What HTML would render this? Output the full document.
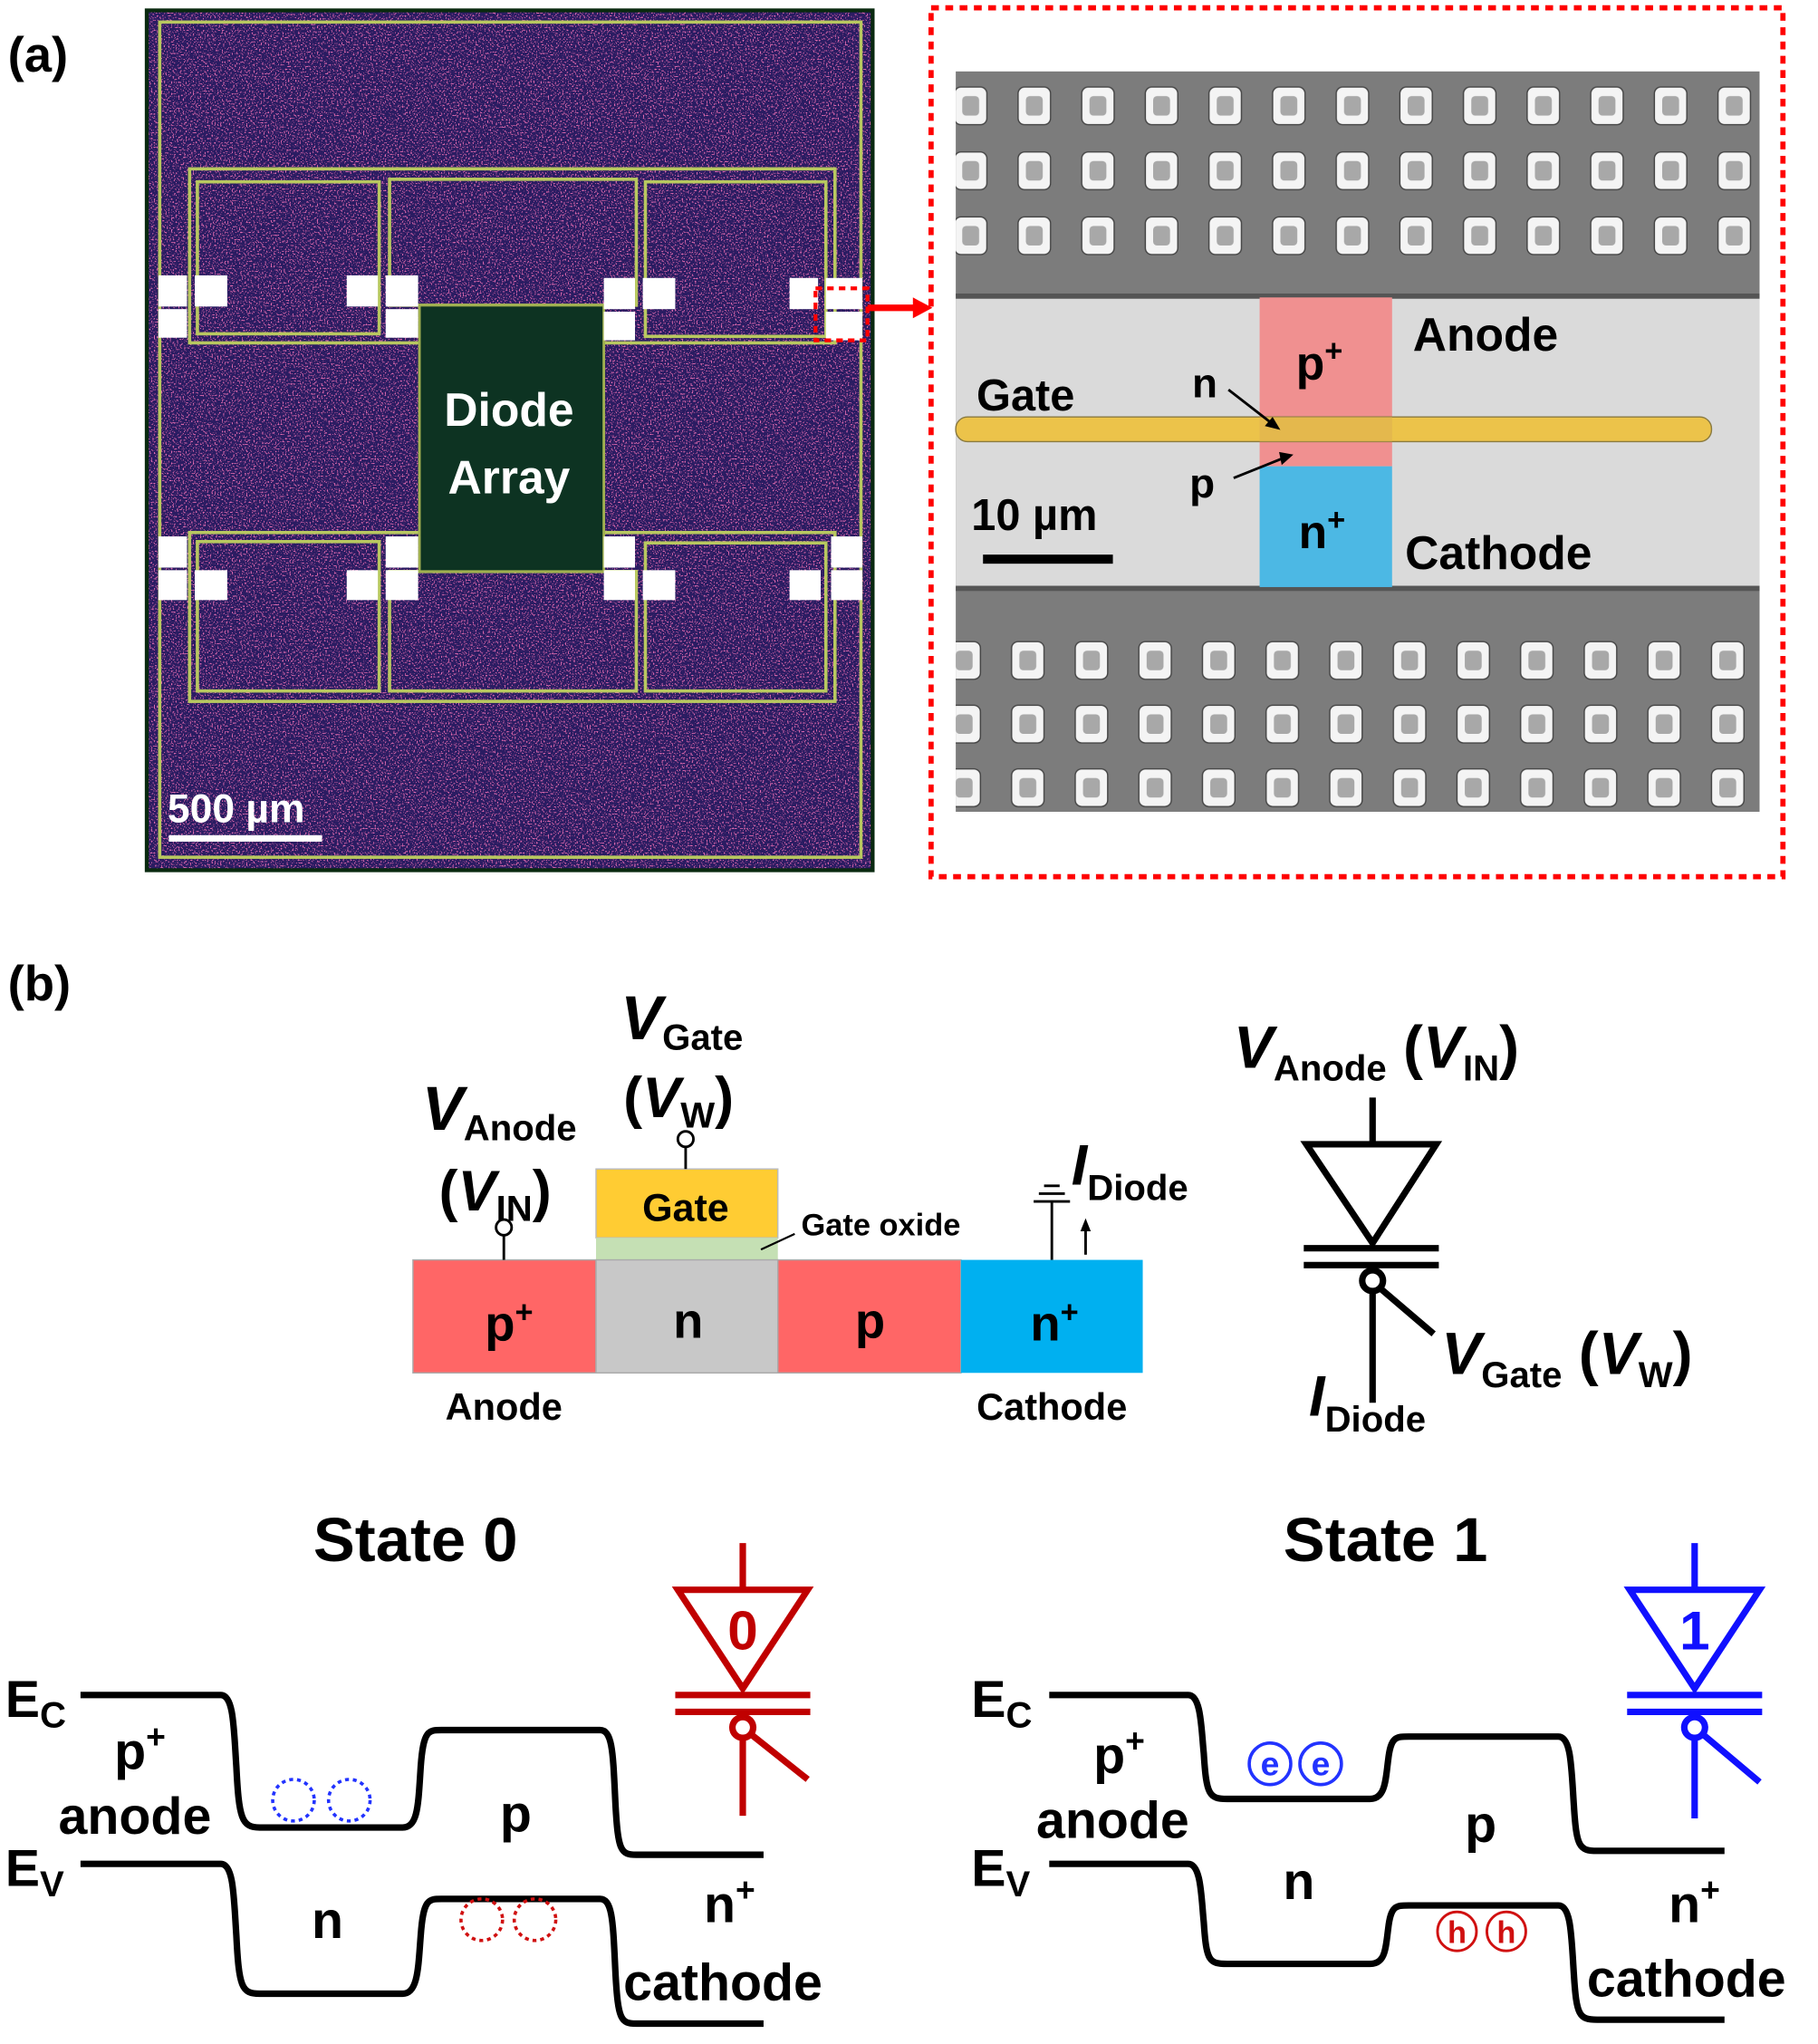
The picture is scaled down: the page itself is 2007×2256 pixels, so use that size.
<!DOCTYPE html>
<html><head><meta charset="utf-8"><style>
html,body{margin:0;padding:0;background:#fff;}
svg{display:block;}
text{font-family:"Liberation Sans",Arial,sans-serif;font-weight:bold;}
</style></head><body>
<svg width="2007" height="2256" viewBox="0 0 1400 1573.7" preserveAspectRatio="none" xmlns="http://www.w3.org/2000/svg">
<defs>
<filter id="spk" x="0" y="0" width="100%" height="100%">
<feTurbulence type="fractalNoise" baseFrequency="0.9" numOctaves="1" seed="3" result="n"/>
<feColorMatrix in="n" type="matrix" values="0 0 0 0 0.75  0 0 0 0 0.15  0 0 0 0 0.45  0 0 0 9 -5.2" result="d"/>
<feComposite in="d" in2="SourceGraphic" operator="atop"/>
</filter>
<pattern id="sq" x="733" y="64" width="49" height="50" patternUnits="userSpaceOnUse">
<rect x="2" y="3" width="25" height="29" rx="5" fill="#f4f4f4" stroke="#444" stroke-width="1"/>
<rect x="8" y="10" width="13" height="15" rx="3" fill="#a8a8a8"/>
</pattern>
<pattern id="sq2" x="728" y="491" width="49" height="49" patternUnits="userSpaceOnUse">
<rect x="2" y="3" width="25" height="29" rx="5" fill="#f4f4f4" stroke="#444" stroke-width="1"/>
<rect x="8" y="10" width="13" height="15" rx="3" fill="#a8a8a8"/>
</pattern>
</defs>

<!-- (a) -->
<text x="6" y="55" font-size="38">(a)</text>
<rect x="113" y="8" width="559" height="662" fill="#2c1a62" filter="url(#spk)"/>
<rect x="113" y="8" width="559" height="662" fill="none" stroke="#0a2a10" stroke-width="3"/>
<g fill="none" stroke="#b8c860" stroke-width="2.5">
<rect x="123" y="17" width="540" height="643"/>
<rect x="146" y="130" width="497" height="134"/>
<rect x="152" y="140" width="140" height="117"/>
<rect x="300" y="138" width="190" height="97"/>
<rect x="497" y="140" width="139" height="119"/>
<rect x="146" y="410" width="497" height="130"/>
<rect x="152" y="417" width="140" height="115"/>
<rect x="300" y="440" width="190" height="92"/>
<rect x="497" y="418" width="139" height="114"/>
</g>
<rect x="323" y="235" width="142" height="205" fill="#0d3322" stroke="#a0b050" stroke-width="2"/>
<text x="392" y="328" font-size="36" fill="#fff" text-anchor="middle">Diode</text>
<text x="392" y="380" font-size="36" fill="#fff" text-anchor="middle">Array</text>
<g fill="#fff">
<rect x="122" y="212" width="22" height="24"/><rect x="150" y="212" width="25" height="24"/><rect x="122" y="238" width="22" height="22"/>
<rect x="267" y="212" width="24" height="24"/><rect x="297" y="212" width="25" height="24"/><rect x="297" y="238" width="25" height="22"/>
<rect x="465" y="214" width="24" height="24"/><rect x="495" y="214" width="25" height="24"/><rect x="465" y="240" width="24" height="22"/>
<rect x="608" y="214" width="22" height="24"/><rect x="636" y="214" width="28" height="24"/><rect x="636" y="240" width="28" height="22"/>
<rect x="122" y="413" width="22" height="24"/><rect x="122" y="439" width="22" height="23"/><rect x="150" y="439" width="25" height="23"/>
<rect x="297" y="413" width="25" height="24"/><rect x="267" y="439" width="24" height="23"/><rect x="297" y="439" width="25" height="23"/>
<rect x="465" y="413" width="24" height="24"/><rect x="465" y="439" width="24" height="23"/><rect x="495" y="439" width="25" height="23"/>
<rect x="640" y="413" width="24" height="24"/><rect x="608" y="439" width="24" height="23"/><rect x="640" y="439" width="24" height="23"/>
</g>
<text x="129" y="633" font-size="31" fill="#fff">500 µm</text>
<rect x="130" y="643" width="118" height="5" fill="#fff"/>
<rect x="628" y="222" width="40" height="40" fill="none" stroke="#ff0000" stroke-width="3" stroke-dasharray="5,4"/>
<line x1="668" y1="237" x2="705" y2="237" stroke="#ff0000" stroke-width="5"/>
<polygon points="703,229 718,237 703,245" fill="#ff0000"/>

<rect x="717" y="6" width="656" height="669" fill="none" stroke="#ff0000" stroke-width="4" stroke-dasharray="6,5"/>
<rect x="736" y="55" width="619" height="570" fill="#7c7c7c"/>
<rect x="736" y="55" width="619" height="160" fill="url(#sq)"/>
<rect x="736" y="228" width="619" height="224" fill="#dadada"/>
<rect x="736" y="226" width="619" height="4" fill="#555"/>
<rect x="736" y="451" width="619" height="4" fill="#555"/>
<rect x="736" y="488" width="619" height="137" fill="url(#sq2)"/>
<rect x="970" y="229" width="102" height="130" fill="#f09090"/>
<rect x="970" y="359" width="102" height="93" fill="#4cb8e4"/>
<rect x="736" y="321" width="582" height="19" rx="9" fill="#ecc34a" stroke="#8a7a40" stroke-width="1"/>
<rect x="970" y="321" width="102" height="19" fill="#e0b050" opacity="0.6"/>
<text x="1088" y="270" font-size="36">Anode</text>
<text x="752" y="316" font-size="34">Gate</text>
<text x="918" y="306" font-size="32">n</text>
<text x="916" y="383" font-size="32">p</text>
<text x="998" y="292" font-size="36">p<tspan font-size="24" dy="-14">+</tspan></text>
<text x="1000" y="422" font-size="36">n<tspan font-size="24" dy="-14">+</tspan></text>
<text x="748" y="408" font-size="34">10 µm</text>
<rect x="757" y="427" width="100" height="7" fill="#000"/>
<text x="1082" y="438" font-size="36">Cathode</text>
<line x1="946" y1="300" x2="982" y2="328" stroke="#000" stroke-width="2"/>
<polygon points="986,331 974,328 980,321" fill="#000"/>
<line x1="950" y1="368" x2="990" y2="352" stroke="#000" stroke-width="2"/>
<polygon points="996,350 985,348 987,358" fill="#000"/>

<!-- (b) -->
<text x="6" y="770" font-size="38">(b)</text>
<rect x="459" y="900" width="140" height="53" fill="#ffcc33" stroke="#bbb" stroke-width="1"/>
<rect x="459" y="953" width="140" height="17" fill="#c5e0b4"/>
<rect x="318" y="970" width="141" height="87" fill="#ff6666" stroke="#aaa" stroke-width="1"/>
<rect x="459" y="970" width="140" height="87" fill="#c8c8c8" stroke="#aaa" stroke-width="1"/>
<rect x="599" y="970" width="141" height="87" fill="#ff6666" stroke="#aaa" stroke-width="1"/>
<rect x="740" y="970" width="140" height="87" fill="#00b0f0"/>
<text x="528" y="940" font-size="30" text-anchor="middle">Gate</text>
<text x="392" y="1032" font-size="38" text-anchor="middle">p<tspan font-size="24" dy="-14">+</tspan></text>
<text x="530" y="1030" font-size="38" text-anchor="middle">n</text>
<text x="670" y="1030" font-size="38" text-anchor="middle">p</text>
<text x="812" y="1032" font-size="38" text-anchor="middle">n<tspan font-size="24" dy="-14">+</tspan></text>
<text x="388" y="1093" font-size="29" text-anchor="middle">Anode</text>
<text x="810" y="1093" font-size="29" text-anchor="middle">Cathode</text>
<g stroke="#000" stroke-width="2" fill="#fff">
<line x1="388" y1="951" x2="388" y2="970"/><circle cx="388" cy="945" r="6"/>
<line x1="528" y1="883" x2="528" y2="900"/><circle cx="528" cy="877" r="6"/>
<line x1="810" y1="925" x2="810" y2="970"/>
<line x1="796" y1="925" x2="824" y2="925"/><line x1="800" y1="919" x2="820" y2="919"/><line x1="804" y1="913" x2="816" y2="913"/>
<line x1="836" y1="966" x2="836" y2="944"/>
<line x1="586" y1="962" x2="612" y2="950" stroke-width="1.5"/>
</g>
<polygon points="836,938 832,948 840,948" fill="#000"/>
<text x="617" y="951" font-size="24">Gate oxide</text>
<text x="325" y="870" font-size="48" font-style="italic">V<tspan font-size="28" font-style="normal" dy="8">Anode</tspan></text>
<text x="338" y="932" font-size="44">(<tspan font-style="italic">V</tspan><tspan font-size="28" dy="8">IN</tspan><tspan dy="-8">)</tspan></text>
<text x="478" y="800" font-size="48" font-style="italic">V<tspan font-size="28" font-style="normal" dy="8">Gate</tspan></text>
<text x="480" y="860" font-size="44">(<tspan font-style="italic">V</tspan><tspan font-size="28" dy="8">W</tspan><tspan dy="-8">)</tspan></text>
<text x="825" y="912" font-size="44" font-style="italic">I<tspan font-size="28" font-style="normal" dy="12">Diode</tspan></text>

<!-- right symbol -->
<text x="950" y="822" font-size="46" font-style="italic">V<tspan font-size="28" font-style="normal" dy="10">Anode</tspan><tspan font-style="normal" dy="-10"> (</tspan>V<tspan font-size="28" font-style="normal" dy="10">IN</tspan><tspan font-style="normal" dy="-10">)</tspan></text>
<g stroke="#000" stroke-width="5" fill="none">
<line x1="1057" y1="845" x2="1057" y2="880"/>
<polygon points="1006,881 1106,881 1057,957"/>
<line x1="1004" y1="961" x2="1108" y2="961"/>
<line x1="1004" y1="974" x2="1108" y2="974"/>
<circle cx="1057" cy="986" r="8" fill="#fff"/>
<line x1="1057" y1="994" x2="1057" y2="1080"/>
<line x1="1063" y1="992" x2="1104" y2="1027"/>
</g>
<text x="1110" y="1058" font-size="46" font-style="italic">V<tspan font-size="28" font-style="normal" dy="10">Gate</tspan><tspan font-style="normal" dy="-10"> (</tspan>V<tspan font-size="28" font-style="normal" dy="10">W</tspan><tspan font-style="normal" dy="-10">)</tspan></text>
<text x="1008" y="1090" font-size="44" font-style="italic">I<tspan font-size="28" font-style="normal" dy="12">Diode</tspan></text>

<!-- State 0 -->
<text x="320" y="1202" font-size="48" text-anchor="middle">State 0</text>
<g stroke="#000" stroke-width="5" fill="none">
<path d="M62,1305 H170 C180,1305 180,1330 182,1360 C184,1400 186,1407 200,1407 H310 C322,1407 322,1390 324,1360 C326,1332 330,1332 340,1332 H462 C472,1332 472,1350 474,1390 C476,1425 478,1428 490,1428 H588"/>
<path d="M62,1435 H170 C180,1435 180,1460 182,1490 C184,1530 186,1535 200,1535 H310 C322,1535 322,1515 324,1490 C326,1462 330,1462 340,1462 H462 C472,1462 472,1480 474,1520 C476,1555 478,1558 490,1558 H588"/>
</g>
<text x="4" y="1322" font-size="40">E<tspan font-size="28" dy="8">C</tspan></text>
<text x="4" y="1452" font-size="40">E<tspan font-size="28" dy="8">V</tspan></text>
<text x="88" y="1362" font-size="40">p<tspan font-size="26" dy="-16">+</tspan></text>
<text x="45" y="1412" font-size="40">anode</text>
<text x="385" y="1410" font-size="40">p</text>
<text x="240" y="1492" font-size="40">n</text>
<text x="542" y="1480" font-size="40">n<tspan font-size="26" dy="-16">+</tspan></text>
<text x="480" y="1540" font-size="40">cathode</text>
<g fill="none" stroke-width="2.5" stroke-dasharray="3,3">
<circle cx="226" cy="1386" r="16" stroke="#2233ff"/><circle cx="269" cy="1386" r="16" stroke="#2233ff"/>
<circle cx="371" cy="1478" r="16" stroke="#d01010"/><circle cx="412" cy="1478" r="16" stroke="#d01010"/>
</g>
<g stroke="#c00000" stroke-width="5" fill="none">
<line x1="572" y1="1188" x2="572" y2="1224"/>
<polygon points="522,1224 622,1224 572,1300"/>
<line x1="520" y1="1305" x2="624" y2="1305"/>
<line x1="520" y1="1318" x2="624" y2="1318"/>
<circle cx="572" cy="1330" r="8" fill="#fff"/>
<line x1="572" y1="1338" x2="572" y2="1398"/>
<line x1="578" y1="1335" x2="622" y2="1370"/>
</g>
<text x="572" y="1270" font-size="42" fill="#c00000" text-anchor="middle">0</text>

<!-- State 1 -->
<text x="1067" y="1202" font-size="48" text-anchor="middle">State 1</text>
<g stroke="#000" stroke-width="5" fill="none">
<path d="M808,1305 H915 C925,1305 925,1330 927,1350 C929,1382 931,1385 945,1385 H1055 C1067,1385 1067,1370 1069,1355 C1071,1337 1075,1337 1085,1337 H1200 C1210,1337 1210,1360 1212,1390 C1214,1422 1216,1425 1230,1425 H1328"/>
<path d="M808,1435 H915 C925,1435 925,1460 927,1480 C929,1510 931,1512 945,1512 H1055 C1067,1512 1067,1500 1069,1485 C1071,1467 1075,1467 1085,1467 H1200 C1210,1467 1210,1490 1212,1520 C1214,1552 1216,1555 1230,1555 H1328"/>
</g>
<text x="748" y="1322" font-size="40">E<tspan font-size="28" dy="8">C</tspan></text>
<text x="748" y="1452" font-size="40">E<tspan font-size="28" dy="8">V</tspan></text>
<text x="842" y="1365" font-size="40">p<tspan font-size="26" dy="-16">+</tspan></text>
<text x="798" y="1415" font-size="40">anode</text>
<text x="1128" y="1418" font-size="40">p</text>
<text x="988" y="1462" font-size="40">n</text>
<text x="1285" y="1480" font-size="40">n<tspan font-size="26" dy="-16">+</tspan></text>
<text x="1222" y="1537" font-size="40">cathode</text>
<g fill="none" stroke="#2233ff" stroke-width="2.5">
<circle cx="978" cy="1358" r="16"/><circle cx="1017" cy="1358" r="16"/>
</g>
<text x="978" y="1367" font-size="26" fill="#2233ff" text-anchor="middle">e</text>
<text x="1017" y="1367" font-size="26" fill="#2233ff" text-anchor="middle">e</text>
<g fill="none" stroke="#d01010" stroke-width="2">
<circle cx="1122" cy="1487" r="15"/><circle cx="1160" cy="1487" r="15"/>
</g>
<text x="1122" y="1496" font-size="24" fill="#d01010" text-anchor="middle">h</text>
<text x="1160" y="1496" font-size="24" fill="#d01010" text-anchor="middle">h</text>
<g stroke="#1010ff" stroke-width="5" fill="none">
<line x1="1305" y1="1188" x2="1305" y2="1224"/>
<polygon points="1255,1224 1355,1224 1305,1300"/>
<line x1="1253" y1="1305" x2="1357" y2="1305"/>
<line x1="1253" y1="1318" x2="1357" y2="1318"/>
<circle cx="1305" cy="1330" r="8" fill="#fff"/>
<line x1="1305" y1="1338" x2="1305" y2="1400"/>
<line x1="1311" y1="1335" x2="1355" y2="1372"/>
</g>
<text x="1305" y="1270" font-size="42" fill="#1010ff" text-anchor="middle">1</text>
</svg>
</body></html>
